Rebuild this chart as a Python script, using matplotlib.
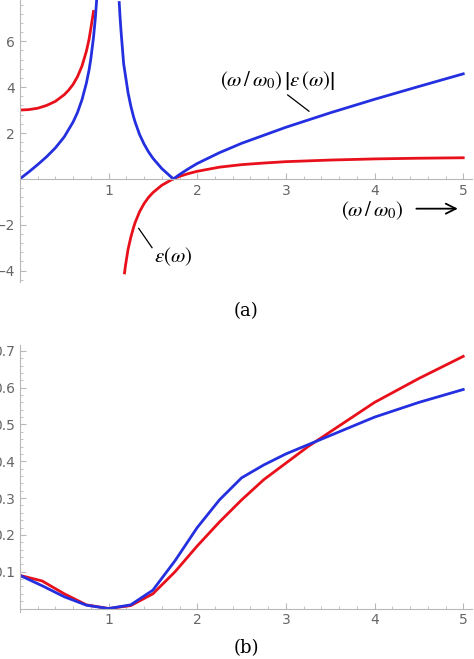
import matplotlib
matplotlib.use("Agg")
import matplotlib.pyplot as plt
from matplotlib.ticker import MultipleLocator

plt.rcParams["mathtext.fontset"] = "stix"

# panel (a): epsilon(w) and (w/w0)|epsilon(w)|
w_left = [0, 0.1, 0.2, 0.3, 0.4, 0.5, 0.55, 0.6, 0.65, 0.7, 0.75, 0.78, 0.8, 0.83]
eps_left = [3.0, 3.02, 3.08, 3.2, 3.38, 3.67, 3.87, 4.12, 4.46, 4.92, 5.57, 6.09, 6.56, 7.3]
w_right = [1.18, 1.19, 1.2, 1.22, 1.25, 1.28, 1.3, 1.35, 1.4, 1.45, 1.5, 1.6, 1.7, 1.732, 1.8, 1.9, 2.0, 2.25, 2.5,
           2.75, 3.0, 3.5, 4.0, 4.5, 5.0]
eps_right = [-4.1, -3.8, -3.55, -3.07, -2.56, -2.14, -1.9, -1.43, -1.08, -0.81, -0.6, -0.28, -0.06, 0.0, 0.11,
             0.23, 0.33, 0.51, 0.62, 0.69, 0.75, 0.82, 0.87, 0.9, 0.92]

w_b1 = [0, 0.1, 0.2, 0.3, 0.4, 0.5, 0.6, 0.65, 0.7, 0.75, 0.78, 0.8, 0.83, 0.85, 0.87]
mag_b1 = [0, 0.3, 0.62, 0.96, 1.35, 1.83, 2.48, 2.9, 3.45, 4.18, 4.75, 5.24, 6.17, 6.98, 8.03]
w_b2 = [1.12, 1.13, 1.14, 1.15, 1.17, 1.2, 1.22, 1.25, 1.28, 1.3, 1.35, 1.4, 1.45, 1.5, 1.6, 1.7, 1.732,
        1.8, 1.9, 2.0, 2.25, 2.5, 3.0, 3.5, 4.0, 4.5, 5.0]
mag_b2 = [7.69, 7.03, 6.47, 5.98, 5.02, 4.26, 3.75, 3.19, 2.73, 2.47, 1.93, 1.52, 1.18, 0.9, 0.45, 0.1, 0.0,
          0.19, 0.44, 0.67, 1.14, 1.55, 2.25, 2.88, 3.47, 4.03, 4.58]

# panel (b)
w_lo = [0, 0.25, 0.5, 0.75, 1.0, 1.25, 1.5, 1.75, 2.0, 2.25, 2.5, 2.75, 3.0, 3.25, 3.5, 3.75, 4.0, 4.5, 5.0]
red_lo = [0.09, 0.075, 0.04, 0.01, 0.0, 0.008, 0.04, 0.1, 0.17, 0.235, 0.295, 0.35, 0.395, 0.44, 0.48, 0.52,
          0.56, 0.625, 0.685]
blue_lo = [0.09, 0.062, 0.032, 0.009, 0.0, 0.01, 0.05, 0.13, 0.22, 0.295, 0.355, 0.39, 0.42, 0.445, 0.47, 0.495,
           0.52, 0.56, 0.595]

RED = "#e8101a"
BLUE = "#2430e0"
GRAY = "#b8b8b8"


def style_axes(ax):
    for side in ("top", "right"):
        ax.spines[side].set_visible(False)
    ax.spines["left"].set_position(("data", 0))
    ax.spines["bottom"].set_position(("data", 0))
    for side in ("left", "bottom"):
        ax.spines[side].set_color(GRAY)
    ax.tick_params(which="both", colors=GRAY, labelcolor="#666666", labelsize=10, direction="in")
    ax.tick_params(which="major", length=4)
    ax.tick_params(which="minor", length=2)
    ax.xaxis.set_major_locator(MultipleLocator(1))
    ax.xaxis.set_minor_locator(MultipleLocator(0.2))


fig = plt.figure(figsize=(4.74, 6.59), dpi=100)

ax1 = fig.add_axes([0.042, 0.572, 0.954, 0.428])
ax1.plot(w_left, eps_left, color=RED, lw=2)
ax1.plot(w_right, eps_right, color=RED, lw=2)
ax1.plot(w_b1, mag_b1, color=BLUE, lw=2)
ax1.plot(w_b2, mag_b2, color=BLUE, lw=2)
ax1.set_xlim(0, 5.1)
ax1.set_ylim(-4.5, 7.8)
style_axes(ax1)
ax1.yaxis.set_minor_locator(MultipleLocator(0.4))
ax1.set_yticks([-4, -2, 2, 4, 6])
ax1.set_xticks([1, 2, 3, 4, 5])

ax1.text(2.91, 4.27, r"$(\omega\,/\,\omega_0)\,\left|\varepsilon\,(\omega)\right|$",
         fontsize=15, ha="center", va="center")
ax1.plot([3.02, 3.26], [3.66, 2.95], color="black", lw=0.9)
ax1.text(1.73, -3.4, r"$\varepsilon(\omega)$", fontsize=15, ha="center", va="center")
ax1.plot([1.34, 1.49], [-2.16, -3.0], color="black", lw=0.9)
ax1.text(3.97, -1.4, r"$(\omega\,/\,\omega_0)$", fontsize=15, ha="center", va="center")
ax1.annotate("", xy=(4.97, -1.3), xytext=(4.44, -1.3),
             arrowprops=dict(arrowstyle="->", color="black", lw=1.3, mutation_scale=18))

ax2 = fig.add_axes([0.042, 0.071, 0.954, 0.405])
ax2.plot(w_lo, red_lo, color=RED, lw=2)
ax2.plot(w_lo, blue_lo, color=BLUE, lw=2)
ax2.set_xlim(0, 5.1)
ax2.set_ylim(-0.01, 0.715)
style_axes(ax2)
ax2.set_yticks([0.1, 0.2, 0.3, 0.4, 0.5, 0.6, 0.7])
ax2.yaxis.set_minor_locator(MultipleLocator(0.02))
ax2.set_xticks([1, 2, 3, 4, 5])

fig.text(0.519, 1 - 311 / 659, "(a)", fontsize=13, family="DejaVu Serif", ha="center", va="center")
fig.text(0.519, 1 - 648 / 659, "(b)", fontsize=13, family="DejaVu Serif", ha="center", va="center")

fig.savefig("out.png", dpi=100)
